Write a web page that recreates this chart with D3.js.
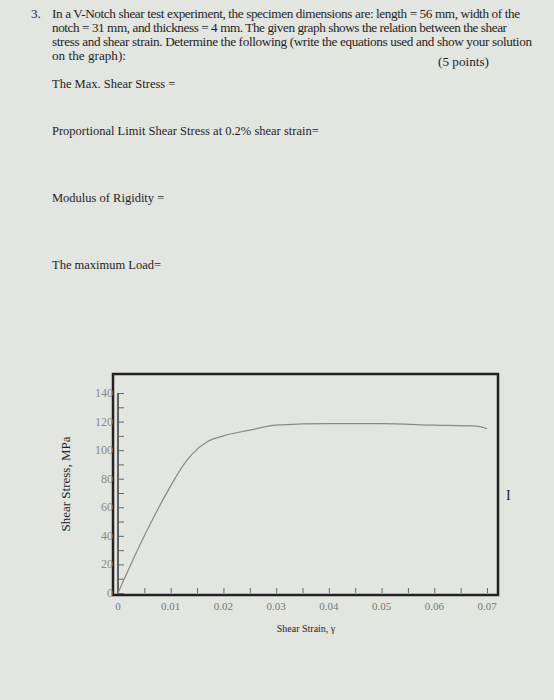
<!DOCTYPE html>
<html><head><meta charset="utf-8">
<script src="https://cdn.jsdelivr.net/npm/d3@7"></script>
<style>body{margin:0;background:#e3e5e1}text{font-family:"Liberation Serif",serif;fill:#1e1e1e}</style>
</head><body><svg id="c" width="554" height="700"></svg>
<script>
const strain=[0,0.005,0.01,0.0125,0.014,0.017,0.02,0.025,0.03,0.04,0.05,0.06,0.068,0.07];
const stress=[0,40,75,90,97,106,110,114,117.5,118.5,118.5,117.5,116.8,115];
const xTicks=[0,0.01,0.02,0.03,0.04,0.05,0.06,0.07];
const xTickLabels=["0","0.01","0.02","0.03","0.04","0.05","0.06","0.07"];
const yTicks=[0,20,40,60,80,100,120,140];
const lines=["In a V-Notch shear test experiment, the specimen dimensions are: length = 56 mm, width of the","notch = 31 mm, and thickness = 4 mm. The given graph shows the relation between the shear","stress and shear strain. Determine the following (write the equations used and show your solution","on the graph):"];
const questions=[["The Max. Shear Stress =",88],["Proportional Limit Shear Stress at 0.2% shear strain=",135],["Modulus of Rigidity =",202],["The maximum Load=",269]];

const svg=d3.select("#c");
svg.append("text").attr("x",31).attr("y",18).attr("font-size",13.2).text("3.");
lines.forEach((t,i)=>svg.append("text").attr("x",52).attr("y",18+i*14).attr("font-size",13.2).attr("textLength",i==3?null:[468,455,480][i]).text(t));
svg.append("text").attr("x",438).attr("y",66).attr("font-size",13.2).text("(5 points)");
questions.forEach(q=>svg.append("text").attr("x",52).attr("y",q[1]).attr("font-size",12.5).text(q[0]));
svg.append("text").attr("x",506).attr("y",500).attr("font-size",14).text("I");

const x=d3.scaleLinear().domain([0,0.07]).range([118,487]);
const y=d3.scaleLinear().domain([0,140]).range([593,393]);
svg.append("rect").attr("x",113).attr("y",374).attr("width",385).attr("height",221).attr("fill","none").attr("stroke","#222").attr("stroke-width",2.5);
svg.append("line").attr("x1",118).attr("x2",118).attr("y1",393).attr("y2",595).attr("stroke","#333").attr("stroke-width",1.5);
const gx=svg.append("g").attr("transform","translate(0,593)");
gx.call(d3.axisTop(x).tickValues(d3.range(0,0.0701,0.005)).tickSize(5).tickFormat("")).call(g=>g.select(".domain").remove()).selectAll("line").attr("stroke","#666");
xTicks.forEach((v,i)=>svg.append("text").attr("x",x(v)).attr("y",610).attr("text-anchor","middle").attr("font-size",11).style("fill","#777").text(xTickLabels[i]));
const gy=svg.append("g").attr("transform","translate(118,0)");
gy.call(d3.axisRight(y).tickValues(d3.range(0,141,10)).tickSize(6).tickFormat("")).call(g=>g.select(".domain").remove()).selectAll("line").attr("stroke","#666");
yTicks.forEach(v=>svg.append("text").attr("x",113).attr("y",y(v)+4).attr("text-anchor","end").attr("font-size",12).style("fill","#888").text(v));
svg.append("text").attr("transform","translate(70,484) rotate(-90)").attr("text-anchor","middle").attr("font-size",13).text("Shear Stress, MPa");
svg.append("text").attr("x",306).attr("y",632).attr("text-anchor","middle").attr("font-size",10).text("Shear Strain, γ");
svg.append("path").datum(strain.map((s,i)=>[s,stress[i]])).attr("d",d3.line().x(d=>x(d[0])).y(d=>y(d[1])).curve(d3.curveMonotoneX)).attr("fill","none").attr("stroke","#888").attr("stroke-width",1.2);
</script></body></html>
